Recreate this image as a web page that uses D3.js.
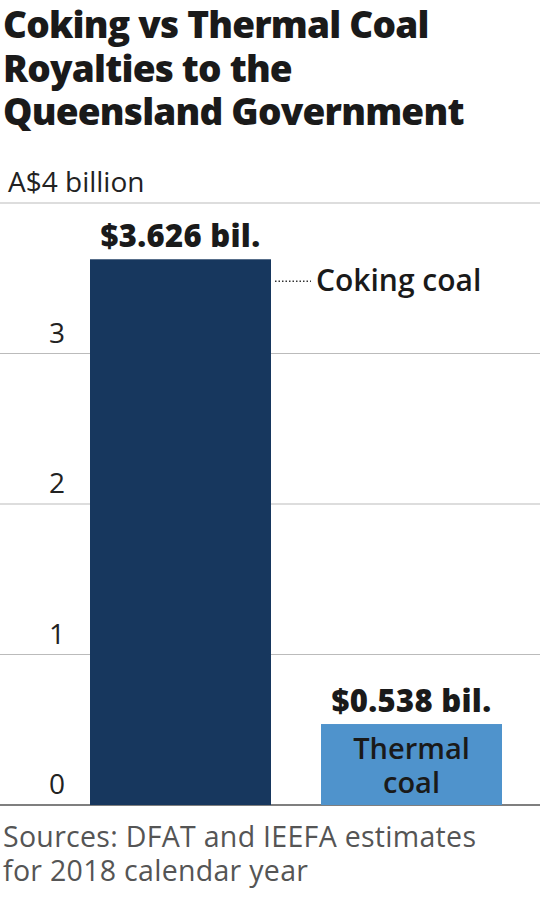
<!DOCTYPE html>
<html><head><meta charset="utf-8">
<script src="https://cdn.jsdelivr.net/npm/d3@7"></script>
<style>body{margin:0;background:#fff;}svg{display:block;font-family:"Open Sans",sans-serif;}</style>
</head><body><svg id="c" width="540" height="900"></svg>
<script>
const categories = ["Coking coal", "Thermal coal"];
const values = [3.626, 0.538];
const valueLabels = ["$3.626 bil.", "$0.538 bil."];
const ticks = [0, 1, 2, 3, 4];
const tickLabels = ["0", "1", "2", "3", "A$4 billion"];
const titleLines = ["Coking vs Thermal Coal", "Royalties to the", "Queensland Government"];
const sourceLines = ["Sources: DFAT and IEEFA estimates", "for 2018 calendar year"];
const colors = ["#17375e", "#4f93cc"];

const svg = d3.select("#c");
const y = d3.scaleLinear().domain([0, 4]).range([805, 203]);
const x = d3.scaleBand().domain(categories).range([90, 502]).paddingInner(0.2165).paddingOuter(0);

svg.selectAll("text.title").data(titleLines).join("text")
  .attr("x", 3).attr("y", (d, i) => 38 + i * 43.5)
  .attr("font-size", 37).attr("font-weight", 800).attr("fill", "#1a1a1a")
  .attr("letter-spacing", -0.8).text(d => d);

svg.selectAll("line.grid").data(ticks).join("line")
  .attr("x1", 0).attr("x2", 540).attr("y1", d => y(d)).attr("y2", d => y(d))
  .attr("stroke", d => d === 0 ? "#555" : "#bbb").attr("stroke-width", d => d === 0 ? 1.5 : 1.2);

svg.selectAll("text.tick").data(ticks).join("text")
  .attr("x", d => d === 4 ? 8 : 49).attr("y", d => y(d) - 11)
  .attr("text-anchor", "start").attr("font-size", 28).attr("fill", "#222")
  .text((d, i) => tickLabels[i]);

svg.selectAll("rect.bar").data(values).join("rect")
  .attr("x", (d, i) => x(categories[i])).attr("width", x.bandwidth())
  .attr("y", d => y(d)).attr("height", d => y(0) - y(d))
  .attr("fill", (d, i) => colors[i]);

svg.selectAll("text.val").data(values).join("text")
  .attr("x", (d, i) => x(categories[i]) + x.bandwidth() / 2).attr("y", d => y(d) - 12)
  .attr("text-anchor", "middle").attr("font-size", 31).attr("font-weight", 800).attr("fill", "#1a1a1a")
  .attr("letter-spacing", 0.3).text((d, i) => valueLabels[i]);

const cx = x(categories[0]) + x.bandwidth();
svg.append("line").attr("x1", cx + 4).attr("x2", cx + 40)
  .attr("y1", y(values[0]) + 22).attr("y2", y(values[0]) + 22)
  .attr("stroke", "#333").attr("stroke-dasharray", "1.5,2").attr("stroke-width", 1.5);
svg.append("text").attr("x", cx + 45).attr("y", y(values[0]) + 32)
  .attr("font-size", 30).attr("font-weight", 600).attr("fill", "#1a1a1a").text(categories[0]);

const tx = x(categories[1]) + x.bandwidth() / 2;
["Thermal", "coal"].forEach((t, i) => {
  svg.append("text").attr("x", tx).attr("y", 759 + i * 34)
    .attr("text-anchor", "middle").attr("font-size", 29).attr("font-weight", 600).attr("fill", "#1a1a1a").text(t);
});

svg.selectAll("text.src").data(sourceLines).join("text")
  .attr("x", 3).attr("y", (d, i) => 847 + i * 34)
  .attr("font-size", 28.5).attr("fill", "#555").attr("letter-spacing", 0.3).text(d => d);
</script></body></html>
